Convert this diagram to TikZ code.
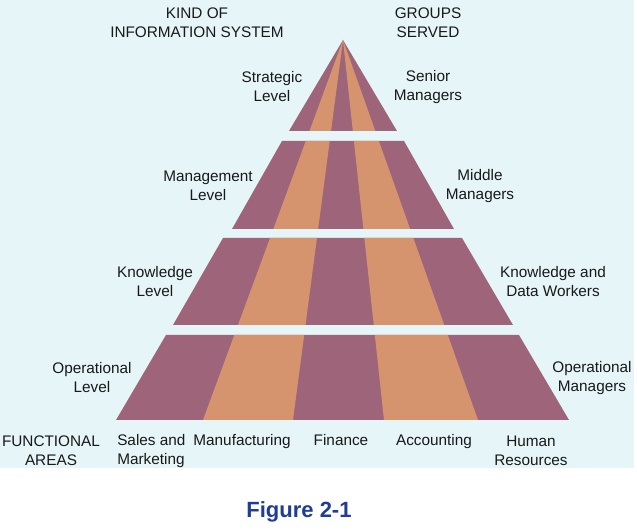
\documentclass[tikz,border=0pt]{standalone}
\usepackage{fontspec}
\setmainfont{Liberation Sans}
\definecolor{bgc}{HTML}{E6F5F7}
\definecolor{plum}{HTML}{9E657A}
\definecolor{peach}{HTML}{D6946E}
\definecolor{figblue}{HTML}{1F3C96}
\newcommand\pyrstripes{%
  \fill[band] (0,30) rectangle (637,430);
  \fill[stripe] (343,40) -- (203,420) -- (293,420) -- cycle;
  \fill[stripe] (343,40) -- (384,420) -- (478,420) -- cycle;}
\begin{document}
\begin{tikzpicture}[x=0.75pt,y=-0.75pt,
  lbl/.style={font=\fontsize{11.5}{14.25}\selectfont, align=center, inner sep=0pt, text=black!90},
  one/.style={lbl, anchor=base},
  band/.style={fill=plum},
  stripe/.style={fill=peach}]
\useasboundingbox (0,0) rectangle (637,531);
\fill[white] (0,0) rectangle (637,531);
\fill[bgc] (0,0) rectangle (634,468);
% band 1 (strategic)
\begin{scope}
\clip (343,40) -- (397,131) -- (289,131) -- cycle;
\pyrstripes
\end{scope}
% band 2 (management)
\begin{scope}
\clip (282,141) -- (404,141) -- (454,229) -- (232,229) -- cycle;
\pyrstripes
\end{scope}
% band 3 (knowledge)
\begin{scope}
\clip (223,238) -- (462,238) -- (513,325) -- (173,325) -- cycle;
\pyrstripes
\end{scope}
% band 4 (operational)
\begin{scope}
\clip (166,335) -- (519,335) -- (569,420) -- (116,420) -- cycle;
\pyrstripes
\end{scope}
% headings
\node[lbl] (kind) at (197,23) {KIND OF\\INFORMATION SYSTEM};
\node[lbl] (groups) at (428,23) {GROUPS\\SERVED};
% level labels
\node[lbl] (strat) at (272,87) {Strategic\\Level};
\node[lbl] (senior) at (428,87) {Senior\\Managers};
\node[lbl] (mgmt) at (208,186) {Management\\Level};
\node[lbl] (middle) at (480,186) {Middle\\Managers};
\node[lbl] (know) at (155,282) {Knowledge\\Level};
\node[lbl] (kdw) at (553,282) {Knowledge and\\Data Workers};
\node[lbl] (oper) at (92,378) {Operational\\Level};
\node[lbl] (opman) at (592,378) {Operational\\Managers};
% functional areas
\node[lbl] (func) at (51,451) {FUNCTIONAL\\AREAS};
\node[lbl, align=left, anchor=west] (sales) at (117,451) {Sales and\\Marketing};
\node[one] (manuf) at (242,445.5) {Manufacturing};
\node[one] (fin) at (341,445.5) {Finance};
\node[one] (acct) at (434,445.5) {Accounting};
\node[lbl] (hr) at (531,451) {Human\\Resources};
% caption
\node[font=\fontsize{16.5}{20}\selectfont\bfseries, text=figblue, inner sep=0pt] (fig) at (299,512) {Figure 2-1};
\end{tikzpicture}
\end{document}
